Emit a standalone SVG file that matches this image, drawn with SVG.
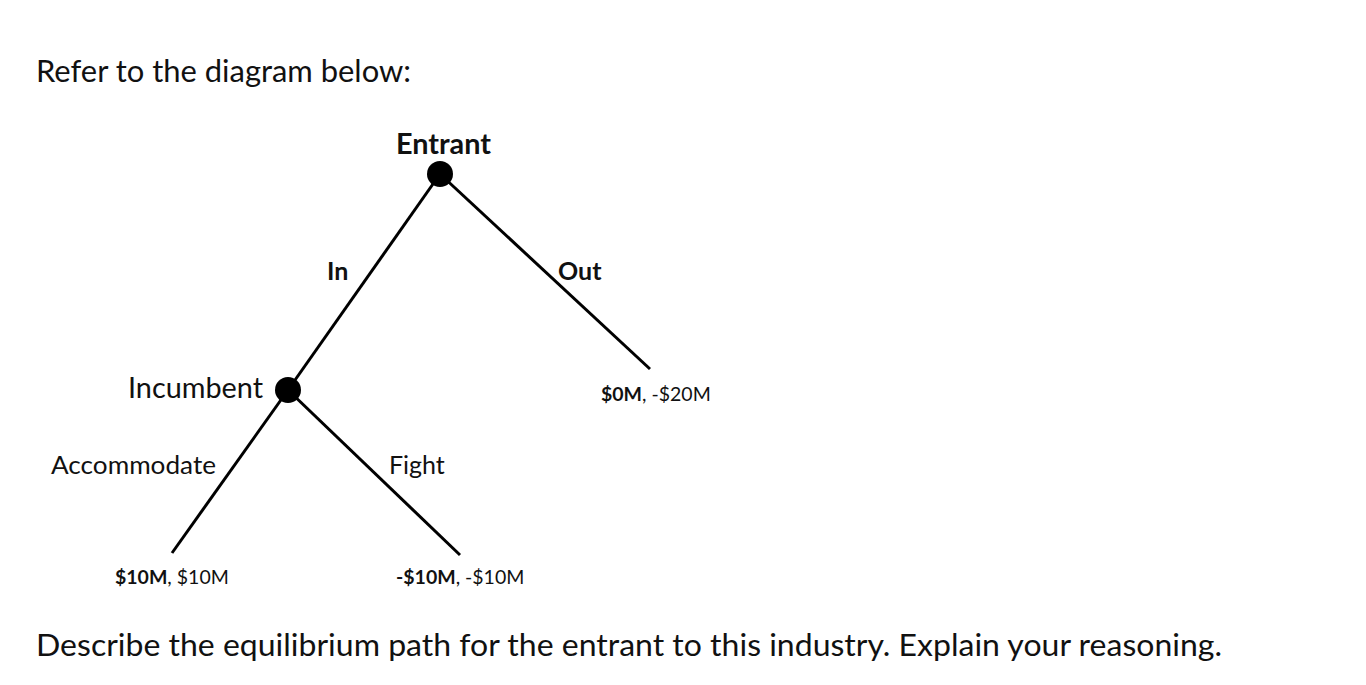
<svg xmlns="http://www.w3.org/2000/svg" width="1366" height="685" viewBox="0 0 1366 685">
<style>
.q{font-family:Lato,"Liberation Sans",sans-serif;font-size:31px;fill:#111}
.l{font-family:Lato,"Open Sans",sans-serif;font-size:25px;fill:#111}
.big{font-size:28px}
.b{font-weight:bold}
.p{font-family:Lato,"Open Sans",sans-serif;font-size:19.5px;fill:#111}
.e{stroke:#000;stroke-width:3;fill:none}
.n{fill:#000}
</style>
<rect width="1366" height="685" fill="#fff"/>
<text class="q" x="36" y="82" textLength="375" lengthAdjust="spacingAndGlyphs">Refer to the diagram below:</text>
<g id="connectors">
<line class="e" x1="440" y1="174" x2="288" y2="390"/>
<line class="e" x1="440" y1="174" x2="650" y2="369"/>
<line class="e" x1="288" y1="390" x2="172" y2="553"/>
<line class="e" x1="288" y1="390" x2="460" y2="555"/>
</g>
<g id="entrant"><circle class="n" cx="440" cy="174" r="13"/><text class="l b big" x="396" y="154" textLength="95" lengthAdjust="spacingAndGlyphs">Entrant</text></g>
<g id="incumbent"><circle class="n" cx="288" cy="390" r="13"/><text class="l big" x="128" y="398" textLength="135" lengthAdjust="spacingAndGlyphs">Incumbent</text></g>
<g id="labels">
<text class="l b" x="327" y="280">In</text>
<text class="l b" x="558" y="280">Out</text>
<text class="l" x="51" y="474" font-size="26" textLength="165" lengthAdjust="spacingAndGlyphs">Accommodate</text>
<text class="l" x="389" y="474">Fight</text>
</g>
<g id="payoff-out"><text class="p" x="601" y="401"><tspan font-weight="bold">$0M</tspan>, -$20M</text></g>
<g id="payoff-acc"><text class="p" x="115" y="584"><tspan font-weight="bold">$10M</tspan>, $10M</text></g>
<g id="payoff-fight"><text class="p" x="396" y="584"><tspan font-weight="bold">-$10M</tspan>, -$10M</text></g>
<text class="q" x="36" y="656" font-size="32" textLength="1186" lengthAdjust="spacingAndGlyphs">Describe the equilibrium path for the entrant to this industry. Explain your reasoning.</text>
</svg>
